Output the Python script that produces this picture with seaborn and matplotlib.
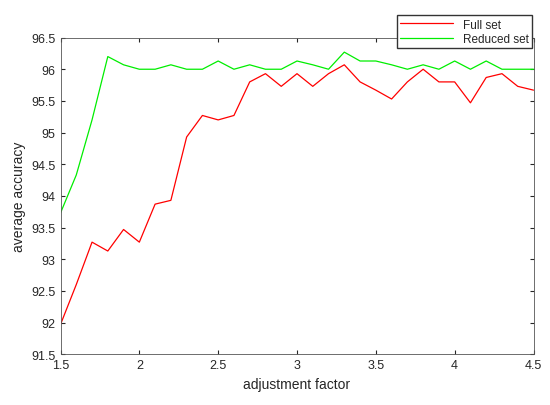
import numpy as np
import matplotlib
matplotlib.use("Agg")
import matplotlib.pyplot as plt
import seaborn as sns

factor = np.round(np.arange(1.5, 4.51, 0.1), 1)
full_set = [91.97, 92.6, 93.27, 93.13, 93.47, 93.27, 93.87, 93.93, 94.93, 95.27, 95.2,
            95.27, 95.8, 95.93, 95.73, 95.93, 95.73, 95.93, 96.07, 95.8, 95.67,
            95.53, 95.8, 96.0, 95.8, 95.8, 95.47, 95.87, 95.93, 95.73, 95.67]
reduced_set = [93.73, 94.33, 95.2, 96.2, 96.07, 96.0, 96.0, 96.07, 96.0, 96.0, 96.13,
               96.0, 96.07, 96.0, 96.0, 96.13, 96.07, 96.0, 96.27, 96.13, 96.13,
               96.07, 96.0, 96.07, 96.0, 96.13, 96.0, 96.13, 96.0, 96.0, 96.0]
yticks = [91.5, 92, 92.5, 93, 93.5, 94, 94.5, 95, 95.5, 96, 96.5]
xticks = [1.5, 2, 2.5, 3, 3.5, 4, 4.5]

sns.set_style("ticks")
plt.rcParams['font.family'] = ['Liberation Sans', 'DejaVu Sans']

fig, ax = plt.subplots(figsize=(5.5, 4.06), dpi=100)
sns.lineplot(x=factor, y=full_set, color="#ff0000", lw=0.9, label="Full set", ax=ax)
sns.lineplot(x=factor, y=reduced_set, color="#00ee00", lw=0.9, label="Reduced set", ax=ax)

ax.set_xlim(1.5, 4.5)
ax.set_ylim(91.5, 96.5)
ax.set_xticks(xticks)
ax.set_xticklabels([f"{t:g}" for t in xticks])
ax.set_yticks(yticks)
ax.set_yticklabels([f"{t:g}" for t in yticks])
ax.tick_params(direction="in", top=True, right=True, labelsize=9, length=3)
for s in ax.spines.values():
    s.set_linewidth(0.6)
    s.set_color("#555555")
ax.set_xlabel("adjustment factor", fontsize=10)
ax.set_ylabel("average accuracy", fontsize=10)
ax.legend(loc="upper right", bbox_to_anchor=(1.01, 1.09), fontsize=8.5,
          fancybox=False, edgecolor="#333333", framealpha=1, handlelength=4.5,
          borderpad=0.3, labelspacing=0.2)
fig.subplots_adjust(left=0.11, right=0.97, bottom=0.125, top=0.905)
fig.savefig("out.png")
